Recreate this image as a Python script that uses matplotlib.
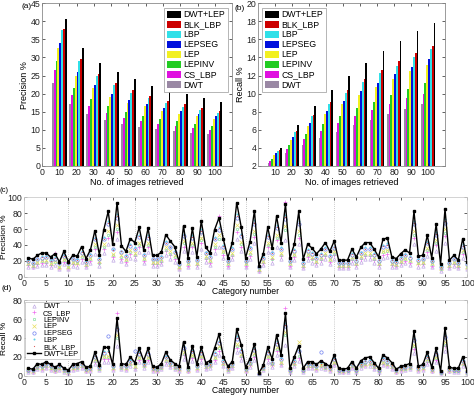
import numpy as np
import matplotlib
matplotlib.use("Agg")
import matplotlib.pyplot as plt

plt.rcParams['font.family'] = ['Liberation Sans', 'DejaVu Sans']
plt.rcParams['font.size'] = 6.5

# methods, in bar order (left to right)
methods = ['DWT', 'CS_LBP', 'LEPINV', 'LEP', 'LEPSEG', 'LBP', 'BLK_LBP', 'DWT+LEP']
bar_colors = ['#9a88a4', '#e010e0', '#22cc22', '#f2f020', '#0010dd', '#30e0e8', '#cc0000', '#000000']
n_images = [10, 20, 30, 40, 50, 60, 70, 80, 90, 100]

# (a) average precision vs number of images retrieved
prec_top = {
    'DWT':     [23.0, 17.0, 14.3, 12.8, 11.5, 10.8, 10.2, 9.7, 9.2, 8.8],
    'CS_LBP':  [26.5, 19.5, 16.5, 14.7, 13.3, 12.5, 11.7, 11.0, 10.4, 10.0],
    'LEPINV':  [29.0, 21.5, 18.5, 16.5, 15.0, 13.8, 13.0, 12.3, 11.6, 11.0],
    'LEP':     [32.5, 25.0, 21.5, 19.0, 17.5, 16.5, 15.2, 14.5, 13.8, 13.0],
    'LEPSEG':  [34.0, 26.0, 22.5, 20.0, 18.3, 17.2, 16.0, 15.2, 14.5, 13.7],
    'LBP':     [37.5, 29.0, 25.0, 22.3, 20.3, 18.8, 17.5, 16.3, 15.5, 14.7],
    'BLK_LBP': [38.0, 29.5, 25.5, 23.0, 21.0, 19.3, 18.0, 17.0, 16.0, 15.2],
    'DWT+LEP': [40.5, 32.5, 28.5, 26.0, 24.0, 22.2, 21.0, 19.8, 18.7, 17.8],
}
# (b) average recall vs number of images retrieved
rec_top = {
    'DWT':     [2.3, 3.4, 4.3, 5.1, 5.8, 6.5, 7.1, 7.8, 8.3, 8.9],
    'CS_LBP':  [2.5, 3.9, 5.0, 5.9, 6.7, 7.5, 8.2, 8.9, 9.5, 10.0],
    'LEPINV':  [2.8, 4.3, 5.5, 6.6, 7.5, 8.4, 9.1, 9.8, 10.5, 11.2],
    'LEP':     [3.2, 4.9, 6.4, 7.7, 8.8, 9.9, 10.7, 11.6, 12.5, 13.2],
    'LEPSEG':  [3.4, 5.2, 6.8, 8.1, 9.2, 10.3, 11.2, 12.2, 13.0, 13.8],
    'LBP':     [3.7, 5.8, 7.5, 8.9, 10.1, 11.3, 12.3, 13.1, 14.0, 14.9],
    'BLK_LBP': [3.8, 5.9, 7.6, 9.1, 10.4, 11.6, 12.6, 13.6, 14.5, 15.3],
    'DWT+LEP': [4.0, 6.5, 8.6, 10.4, 12.0, 13.4, 14.7, 15.8, 16.9, 17.8],
}

categories = list(range(1, 101))

# (c) precision per category
prec_cat = {
    'DWT': [13,12,14,15,15,13,15,10,16,10, 14,13,19,12,17,29,14,30,41,21,
            47,20,16,24,22,31,17,31,14,14, 16,27,23,19,10,32,12,31,13,35,
            19,15,30,37,24,12,22,47,32,12, 22,42,7,15,31,18,38,22,46,12,
            21,41,11,21,18,15,18,22,16,23, 11,11,11,18,13,19,22,22,18,13,
            24,25,13,12,15,17,15,41,13,14, 26,12,33,8,43,11,14,11,24,10],
    'CS_LBP': [15,13,16,18,18,15,30,11,19,11, 16,16,23,14,20,35,17,35,49,25,
               56,23,19,29,26,37,20,37,16,16, 19,32,27,23,11,38,14,37,15,42,
               22,18,35,76,28,14,26,56,38,14, 26,50,8,17,37,22,46,26,94,14,
               25,49,13,25,22,17,21,26,19,27, 13,13,13,21,15,22,26,26,21,15,
               28,29,15,14,17,20,18,49,16,16, 31,14,40,10,51,13,16,13,29,11],
    'LEPINV': [16,14,18,20,19,16,19,12,21,12, 18,17,25,15,22,38,18,38,53,27,
               60,25,21,31,28,40,22,40,18,18, 20,34,29,25,12,42,16,40,16,46,
               24,20,38,48,31,16,28,60,41,16, 29,54,9,19,40,23,49,28,59,16,
               27,53,14,27,23,19,23,28,21,29, 14,14,14,23,16,24,28,28,23,16,
               31,32,16,15,19,22,20,53,17,18, 34,16,43,10,55,14,18,14,31,12],
    'LEP': [17,15,19,21,21,18,20,13,22,13, 19,18,27,16,24,41,20,41,57,29,
            65,27,22,34,30,43,24,43,19,19, 22,37,32,27,13,45,17,43,18,49,
            26,21,41,52,33,17,30,65,44,17, 31,58,10,20,43,25,53,30,64,17,
            29,57,15,29,25,20,25,30,22,32, 15,15,15,25,18,26,30,30,25,18,
            33,34,18,16,20,24,21,57,18,19, 36,17,46,11,60,15,19,15,34,13],
    'LEPSEG': [20,17,22,24,25,21,23,17,26,17, 22,21,30,19,27,47,23,48,66,35,
               74,31,26,39,35,50,28,49,22,22, 25,42,37,31,16,51,20,49,21,56,
               30,25,47,59,38,20,35,74,51,20, 36,66,12,24,50,30,61,35,73,20,
               33,66,18,33,29,24,28,35,26,36, 17,17,17,28,20,30,35,35,28,20,
               38,39,20,19,24,27,24,66,21,22, 42,20,53,13,68,17,22,17,38,16],
    'LBP': [21,18,23,26,26,21,25,16,27,16, 23,22,32,20,29,49,24,50,70,35,
            79,33,27,41,37,53,29,52,23,23, 26,45,38,32,16,54,20,52,21,60,
            31,26,50,63,40,20,37,79,54,20, 37,71,12,25,53,31,65,37,77,20,
            35,70,19,35,31,25,30,37,27,38, 18,18,18,30,21,31,37,37,30,21,
            40,42,21,20,25,29,26,70,22,23, 44,20,56,14,72,18,23,18,41,16],
    'BLK_LBP': [20,18,22,25,25,20,24,16,26,16, 22,21,31,19,28,48,23,48,67,34,
                76,32,26,40,35,51,28,50,22,22, 25,43,37,31,16,52,20,50,21,57,
                30,25,48,61,39,20,35,76,52,20, 36,68,12,24,51,30,62,35,75,20,
                34,67,18,34,30,24,29,35,26,37, 17,17,17,29,21,30,35,35,29,21,
                39,40,21,19,24,28,25,67,21,22, 43,20,54,13,70,17,22,17,39,16],
    'DWT+LEP': [24,22,27,30,30,25,29,19,32,19, 27,26,38,23,34,58,28,59,82,41,
                93,39,32,48,43,62,34,61,27,27, 31,53,45,38,19,64,24,61,25,70,
                37,30,59,74,47,24,43,93,63,24, 44,83,14,29,62,36,76,43,91,24,
                41,82,22,41,36,29,35,43,32,45, 21,21,21,35,25,37,43,43,35,25,
                47,49,25,23,29,34,30,82,26,27, 52,24,66,16,85,21,27,21,48,19],
}

# (d) recall per category
rec_cat = {
    'DWT': [4,4,7,6,8,6,5,6,4,3, 6,7,8,5,5,13,6,15,15,6,
            31,7,6,10,7,15,8,15,5,5, 7,13,9,7,5,18,5,16,6,15,
            7,8,15,22,10,5,8,25,17,5, 9,17,2,6,15,9,22,11,33,4,
            10,16,4,8,8,6,8,7,5,11, 4,4,4,8,4,8,10,10,7,4,
            11,10,7,4,5,6,7,24,5,6, 13,5,15,3,26,5,4,4,10,3],
    'CS_LBP': [5,4,8,7,9,7,5,7,5,4, 7,8,9,5,6,15,7,18,18,7,
               66,8,7,12,8,17,10,17,6,5, 8,15,10,8,6,22,5,19,7,18,
               8,10,17,26,12,6,9,29,20,5, 11,20,2,7,18,11,26,13,72,5,
               12,19,5,9,9,7,10,8,6,13, 5,4,5,9,5,10,11,12,8,5,
               13,11,8,4,6,7,8,28,6,7, 15,5,17,3,31,5,5,5,12,3],
    'LEPINV': [5,5,8,8,10,8,6,8,5,4, 8,8,10,6,7,16,7,20,20,8,
               40,8,8,13,9,19,10,19,7,6, 8,16,11,8,7,23,6,21,8,20,
               9,10,19,29,13,6,10,32,21,6, 12,22,2,7,20,12,28,14,43,5,
               13,21,5,10,10,8,10,8,7,14, 5,5,5,10,5,10,12,13,9,5,
               14,12,9,5,7,7,8,31,7,8, 16,6,19,3,33,6,5,5,13,3],
    'LEP': [6,5,9,8,11,8,6,8,6,4, 8,9,11,6,7,18,8,21,21,8,
            43,9,8,14,10,20,11,20,7,6, 9,18,12,9,7,25,6,22,8,21,
            10,11,20,31,14,7,11,34,23,6, 13,24,2,8,21,13,30,15,46,6,
            14,36,6,11,11,8,11,9,7,15, 6,5,6,11,6,11,13,14,10,6,
            15,13,10,5,7,8,9,33,7,8, 18,6,20,4,36,6,6,6,14,4],
    'LEPSEG': [6,6,10,10,12,10,7,10,7,5, 10,10,12,7,8,20,9,24,42,10,
               49,10,10,16,26,23,13,23,8,7, 10,20,14,10,8,29,7,26,10,24,
               11,13,23,35,16,8,12,39,26,7, 14,27,2,9,24,14,34,18,53,6,
               16,26,6,12,12,10,25,10,8,18, 6,6,6,12,6,13,15,16,11,6,
               18,15,11,6,8,9,10,38,8,10, 20,7,23,4,41,7,6,6,16,4],
    'LBP': [7,6,11,10,13,10,8,10,7,5, 10,11,13,8,9,21,9,26,26,10,
            52,11,10,17,12,25,14,25,9,8, 11,21,14,11,9,31,8,27,10,26,
            12,14,25,37,17,9,13,42,28,8, 15,29,3,9,26,15,37,19,56,7,
            17,27,7,13,13,10,14,11,9,19, 7,6,7,13,7,14,16,17,12,7,
            19,16,12,6,9,9,11,40,9,10, 21,8,25,4,43,8,7,7,17,4],
    'BLK_LBP': [7,6,11,10,12,10,8,10,7,5, 10,11,12,8,8,21,9,25,25,10,
                50,11,10,16,12,24,13,24,8,8, 11,20,14,11,8,30,8,26,10,25,
                12,13,24,36,16,8,12,40,27,8, 15,28,2,9,25,15,35,18,54,7,
                16,26,7,12,12,10,13,11,8,18, 7,6,7,12,7,13,16,16,11,7,
                18,16,11,6,8,9,11,39,8,10, 20,7,24,4,42,7,7,7,16,4],
    'DWT+LEP': [8,7,13,12,15,12,9,12,8,6, 12,13,15,9,10,25,11,30,30,12,
                61,13,12,20,14,29,16,29,10,9, 13,25,17,13,10,36,9,32,12,30,
                14,16,29,44,20,10,15,49,33,9, 18,34,3,11,30,18,43,22,66,8,
                20,32,8,15,15,12,16,13,10,22, 8,7,8,15,8,16,19,20,14,8,
                22,19,14,7,10,11,13,47,10,12, 25,9,29,5,51,9,8,8,20,5],
}

grid_x = [10, 25, 30, 35, 40, 45, 50, 55, 70]

# marker style of each method in the per-category plots
marker_style = {
    'DWT':     ('^', '#c0a8e4', 2.4),
    'CS_LBP':  ('+', '#f070f0', 2.8),
    'LEPINV':  ('s', '#88e0a0', 2.0),
    'LEP':     ('x', '#e8e060', 2.4),
    'LEPSEG':  ('o', '#7080f0', 2.4),
    'LBP':     ('.', '#60d0e8', 1.8),
    'BLK_LBP': ('.', '#dd5555', 0.7),
}


def style_axes(ax):
    ax.tick_params(direction='in', length=2.5, width=0.5, top=True, right=True,
                   labelsize=6.3, pad=1.2, colors='#222222')
    for s in ax.spines.values():
        s.set_color('#8a8a8a')
        s.set_linewidth(0.6)


def bar_panel(ax, data, legend_loc):
    w = 1.08
    x = np.array(n_images, dtype=float)
    for i, m in enumerate(methods):
        ax.bar(x + (i - 3.5) * w, data[m], width=w, color=bar_colors[i],
               edgecolor='none', label=m)
    style_axes(ax)
    ax.set_xlim(0, 110)
    ax.set_xlabel('No. of images retrieved', labelpad=1)
    h, l = ax.get_legend_handles_labels()
    leg = ax.legend(h[::-1], l[::-1], loc=legend_loc, fontsize=6.3,
                    handlelength=1.6, handleheight=0.9, labelspacing=0.12,
                    handletextpad=0.3, borderpad=0.3, fancybox=False,
                    framealpha=1, edgecolor='#999999')
    leg.get_frame().set_linewidth(0.5)


def cat_panel(ax, data, ymax, ylab, with_legend):
    for gx in grid_x:
        ax.axvline(gx, color='#999999', lw=0.5, ls=(0, (1, 2)), zorder=0)
    for m in methods[:-1]:
        mk, col, ms = marker_style[m]
        ax.plot(categories, data[m], ls='none', marker=mk, ms=ms, mew=0.5,
                mfc='none' if mk in 'o^s' else col, mec=col, label=m)
    ax.plot(categories, data['DWT+LEP'], color='black', lw=1.0, marker='s',
            ms=1.7, label='DWT+LEP')
    style_axes(ax)
    for s in ax.spines.values():
        s.set_color('#cccccc')
    ax.set_xlim(0, 100)
    ax.set_ylim(0, ymax)
    ax.set_xticks(range(0, 101, 5))
    ax.set_yticks(range(0, ymax + 1, 20))
    ax.set_ylabel(ylab, labelpad=0, fontsize=6)
    ax.yaxis.set_label_coords(-0.037, 0.5)
    ax.set_xlabel('Category number', fontsize=6.2, va='top')
    if with_legend:
        leg = ax.legend(loc='upper left', fontsize=5.3, handlelength=1.9,
                        labelspacing=-0.05, handletextpad=0.3, borderpad=0.2,
                        borderaxespad=0.2, fancybox=False, framealpha=1,
                        edgecolor='#bbbbbb')
        leg.get_frame().set_linewidth(0.5)


fig = plt.figure(figsize=(4.74, 3.99), dpi=100)

ax_a = fig.add_axes([0.0886, 0.584, 0.401, 0.408])
bar_panel(ax_a, prec_top, 'upper right')
ax_a.set_ylim(0, 45)
ax_a.set_yticks(range(0, 46, 5))
ax_a.set_xticks(range(0, 101, 10))
ax_a.set_ylabel('Precision %', labelpad=1)

ax_b = fig.add_axes([0.544, 0.584, 0.395, 0.408])
bar_panel(ax_b, rec_top, 'upper left')
ax_b.set_ylim(2, 20)
ax_b.set_yticks(range(2, 21, 2))
ax_b.set_xticks(range(10, 101, 10))
ax_b.set_ylabel('Recall %', labelpad=1)

ax_c = fig.add_axes([0.0506, 0.306, 0.935, 0.2])
cat_panel(ax_c, prec_cat, 100, 'Precision %', False)
ax_c.xaxis.set_label_coords(0.5, -0.125)

ax_d = fig.add_axes([0.0506, 0.058, 0.935, 0.19])
cat_panel(ax_d, rec_cat, 80, 'Recall %', True)
ax_d.xaxis.set_label_coords(0.5, -0.13)

fig.text(0.046, 0.992, '(a)', fontsize=6, va='top')
fig.text(0.495, 0.988, '(b)', fontsize=6, va='top')
fig.text(0.0, 0.522, '(c)', fontsize=5.5, va='center')
fig.text(0.004, 0.278, '(d)', fontsize=6, va='center')

fig.savefig('out.png', dpi=100)
